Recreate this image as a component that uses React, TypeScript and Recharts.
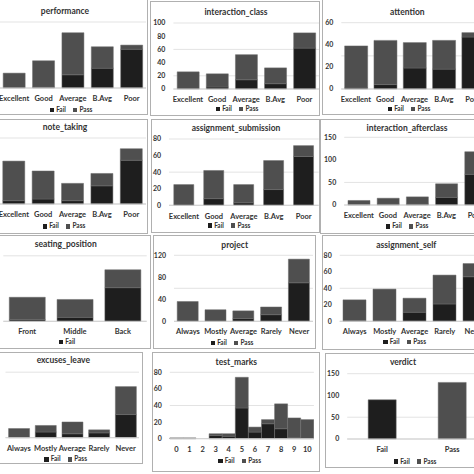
import { BarChart, Bar, XAxis, YAxis, CartesianGrid } from 'recharts'

const FAIL = '#1e1e1e'
const PASS = '#4f4f4f'
const INK = '#333333'
const FONT = 'Lato, "Open Sans", sans-serif'

// category labels
const ratingCats = ['Excellent', 'Good', 'Average', 'B.Avg', 'Poor']
const freqCats = ['Always', 'Mostly', 'Average', 'Rarely', 'Never']
const seatCats = ['Front', 'Middle', 'Back']
const markCats = ['0', '1', '2', '3', '4', '5', '6', '7', '8', '9', '10']
const verdictCats = ['Fail', 'Pass']

// student counts per category (fail / pass)
const performanceFail = [0, 1, 16, 24, 47]
const performancePass = [18, 32, 51, 26, 5]
const interactionClassFail = [0, 3, 14, 8, 62]
const interactionClassPass = [26, 20, 38, 24, 23]
const attentionFail = [1, 4, 19, 18, 47]
const attentionPass = [38, 40, 23, 26, 4]
const noteTakingFail = [4, 6, 4, 22, 53]
const noteTakingPass = [48, 34, 21, 15, 14]
const submissionFail = [0, 8, 3, 19, 59]
const submissionPass = [25, 34, 22, 35, 13]
const afterclassFail = [1, 2, 2, 17, 68]
const afterclassPass = [9, 13, 16, 30, 50]
const seatingFail = [4, 9, 77]
const seatingPass = [51, 41, 41]
const projectFail = [0, 0, 5, 12, 70]
const projectPass = [36, 21, 14, 14, 43]
const selfFail = [1, 0, 11, 21, 54]
const selfPass = [25, 39, 17, 35, 16]
const excusesFail = [0, 13, 9, 11, 53]
const excusesPass = [21, 15, 27, 7, 64]
const marksFail = [0, 0, 0, 4, 3, 37, 8, 18, 12, 1, 0]
const marksPass = [1, 1, 0, 2, 3, 37, 6, 5, 30, 24, 23]
const verdictFail = [90, 0]
const verdictPass = [0, 130]

type Spec = {
  title: string
  cats: string[]
  fail: number[]
  pass: number[]
  yMax: number
  yStep: number
  box: [number, number, number, number] // left, top, right, bottom
  plot: [number, number, number, number] // left, right, top, baseline
  gap: string | number
  titleAt: [number, number]
  legendAt: [number, number]
  labelY: number
  keys?: string[]
}

const panels: Spec[] = [
  { title: 'performance', cats: ratingCats, fail: performanceFail, pass: performancePass, yMax: 80, yStep: 20,
    box: [-19, -2, 148, 115], plot: [-0.5, 146.4, 22, 88], gap: '12.5%', titleAt: [65, 11], legendAt: [71, 110], labelY: 98.5 },
  { title: 'interaction_class', cats: ratingCats, fail: interactionClassFail, pass: interactionClassPass, yMax: 100, yStep: 20,
    box: [150, 1, 320, 116], plot: [173.4, 319, 23, 89], gap: '13%', titleAt: [236, 11.5], legendAt: [237, 109], labelY: 99 },
  { title: 'attention', cats: ratingCats, fail: attentionFail, pass: attentionPass, yMax: 60, yStep: 10,
    box: [322, -2, 494, 115], plot: [341.3, 487.8, 22.7, 89], gap: '11.5%', titleAt: [407.3, 11.7], legendAt: [409, 109], labelY: 99 },
  { title: 'note_taking', cats: ratingCats, fail: noteTakingFail, pass: noteTakingPass, yMax: 80, yStep: 20,
    box: [-19, 119, 148, 234], plot: [-0.9, 146, 138, 204], gap: '12.5%', titleAt: [65, 127], legendAt: [64, 226.3], labelY: 214.7 },
  { title: 'assignment_submission', cats: ratingCats, fail: submissionFail, pass: submissionPass, yMax: 80, yStep: 20,
    box: [151, 119, 320, 233], plot: [169, 318.7, 139, 205.3], gap: '16%', titleAt: [236, 128], legendAt: [229, 225.7], labelY: 216.3 },
  { title: 'interaction_afterclass', cats: ratingCats, fail: afterclassFail, pass: afterclassPass, yMax: 150, yStep: 50,
    box: [320, 119, 494, 234], plot: [344.2, 490.2, 137.3, 205], gap: '13%', titleAt: [407, 128], legendAt: [407, 226.3], labelY: 215.7 },
  { title: 'seating_position', cats: seatCats, fail: seatingFail, pass: seatingPass, yMax: 150, yStep: 50,
    box: [-19, 235, 151, 349], plot: [3.3, 146.7, 255.8, 321.3], gap: '12.5%', titleAt: [65.7, 243.7], legendAt: [67, 342], labelY: 331.3, keys: ['Fail'] },
  { title: 'project', cats: freqCats, fail: projectFail, pass: projectPass, yMax: 120, yStep: 20,
    box: [153, 235, 316, 349], plot: [174, 313, 255.3, 321.3], gap: '11.5%', titleAt: [234.7, 244.7], legendAt: [232, 343], labelY: 331.3 },
  { title: 'assignment_self', cats: freqCats, fail: selfFail, pass: selfPass, yMax: 80, yStep: 20,
    box: [322, 235, 494, 350], plot: [339.7, 489.7, 255.3, 321.3], gap: '11%', titleAt: [406.3, 245], legendAt: [404.7, 342], labelY: 331.3 },
  { title: 'excuses_leave', cats: freqCats, fail: excusesFail, pass: excusesPass, yMax: 150, yStep: 50,
    box: [-16, 352, 143, 464], plot: [5.5, 139, 372.2, 437.7], gap: '11.5%', titleAt: [63.3, 360], legendAt: [65.7, 459.3], labelY: 448.3 },
  { title: 'test_marks', cats: markCats, fail: marksFail, pass: marksPass, yMax: 80, yStep: 20,
    box: [152, 352, 320, 472], plot: [169.8, 313.9, 372.3, 438.7], gap: 0, titleAt: [236.3, 361.7], legendAt: [239.7, 461], labelY: 449 },
  { title: 'verdict', cats: verdictCats, fail: verdictFail, pass: verdictPass, yMax: 150, yStep: 50,
    box: [325, 353, 490, 468], plot: [347.2, 487.2, 373.7, 439], gap: '30%', titleAt: [403, 361.7], legendAt: [415, 461.7], labelY: 449 },
]

const tickFont = { fontSize: 7.5, fill: INK, fontWeight: 700, fontFamily: FONT }

function Legend({ at, keys }: { at: [number, number]; keys: string[] }) {
  return (
    <div
      style={{
        position: 'absolute', left: at[0] - 50, top: at[1] - 4, width: 100, height: 8,
        display: 'flex', justifyContent: 'center', alignItems: 'center', gap: 7,
        fontFamily: FONT, fontSize: 6.5, fontWeight: 700, color: INK, lineHeight: '8px',
      }}
    >
      {keys.map((k) => (
        <span key={k} style={{ display: 'flex', alignItems: 'center', gap: 2 }}>
          <span style={{ width: 4.5, height: 4.5, background: k === 'Fail' ? FAIL : PASS, display: 'inline-block' }} />
          {k}
        </span>
      ))}
    </div>
  )
}

function Panel({ spec }: { spec: Spec }) {
  const [x, y, r, b] = spec.box
  const [pl, pr, pt, base] = spec.plot
  const w = pr - x
  const h = spec.labelY + 10 - y
  const rows = spec.cats.map((c, i) => ({ name: c, fail: spec.fail[i], pass: spec.pass[i] }))
  const ticks: number[] = []
  for (let v = 0; v <= spec.yMax; v += spec.yStep) ticks.push(v)
  // value axis sits off the left edge for the first column
  const yOffscreen = pl < 10

  return (
    <>
      <div
        style={{
          position: 'absolute', left: x, top: y, width: r - x, height: b - y,
          border: '1px solid #b0b0b0', boxSizing: 'border-box',
        }}
      />
      <div style={{ position: 'absolute', left: x, top: y }}>
        <BarChart
          width={w}
          height={h}
          data={rows}
          margin={{ top: pt - y, right: 0, bottom: 0, left: 0 }}
          barCategoryGap={spec.gap}
        >
          <CartesianGrid vertical={false} stroke="#e3e3e3" />
          <XAxis
            dataKey="name"
            height={h - (base - y)}
            interval={0}
            tickSize={0}
            tickMargin={spec.labelY - base - 2.6}
            tickLine={false}
            axisLine={{ stroke: '#cfcfcf' }}
            tick={tickFont}
          />
          <YAxis
            width={pl - x}
            domain={[0, spec.yMax]}
            ticks={ticks}
            tickSize={0}
            tickMargin={8}
            axisLine={false}
            tickLine={false}
            tick={yOffscreen ? false : { ...tickFont, fontSize: 7 }}
          />
          <Bar dataKey="fail" stackId="s" fill={FAIL} stroke="#6a6a6a" strokeWidth={0.5} isAnimationActive={false} />
          <Bar dataKey="pass" stackId="s" fill={PASS} stroke="#6a6a6a" strokeWidth={0.5} isAnimationActive={false} />
        </BarChart>
      </div>
      <div
        style={{
          position: 'absolute', left: spec.titleAt[0] - 70, top: spec.titleAt[1] - 5, width: 140,
          textAlign: 'center', fontFamily: FONT, fontSize: 8.5, fontWeight: 700, color: INK,
          lineHeight: '10px', whiteSpace: 'nowrap',
        }}
      >
        {spec.title}
      </div>
      <Legend at={spec.legendAt} keys={spec.keys ?? ['Fail', 'Pass']} />
    </>
  )
}

export default function App() {
  return (
    <div
      style={{
        position: 'fixed', left: 0, top: 0, width: 474, height: 474,
        overflow: 'hidden', background: '#ffffff',
      }}
    >
      {panels.map((p) => (
        <Panel key={p.title} spec={p} />
      ))}
    </div>
  )
}
